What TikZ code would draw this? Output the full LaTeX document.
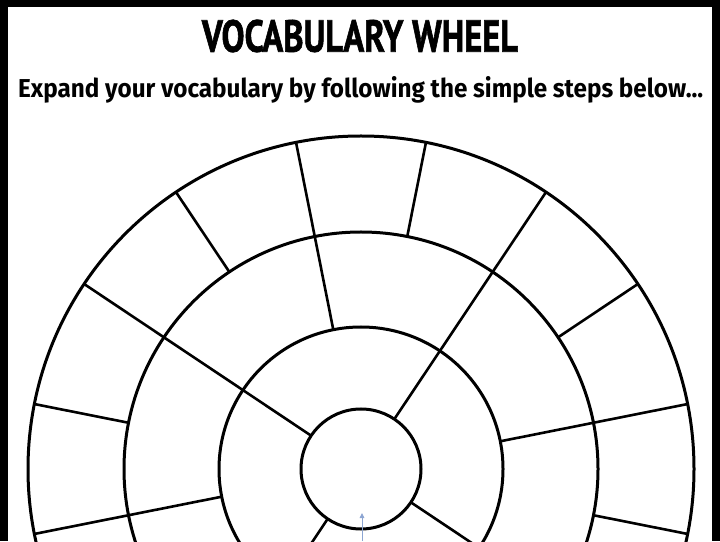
\documentclass[tikz,border=0pt]{standalone}
\usepackage{fontspec}
\usepackage{graphicx}
\setmainfont{Fira Sans}
\newfontfamily\titlefont[FakeBold=1.6]{PT Sans}
\usetikzlibrary{arrows.meta}
\definecolor{pointerblue}{RGB}{140,165,210}

\begin{document}
\begin{tikzpicture}[
  x=1pt, y=1pt,
  ring/.style={line width=3pt},
  spoke/.style={line width=2.6pt},
  pointer/.style={draw=pointerblue, line width=0.9pt, -{Triangle[length=5pt, width=4.5pt]}}
]
\useasboundingbox (0,0) rectangle (720,541);
\clip (0,0) rectangle (720,541);

% heading
\node[inner sep=0] (title) at (360,505)
  {\resizebox{316pt}{32pt}{\titlefont\bfseries VOCABULARY WHEEL}};
\node[inner sep=0, anchor=base west] (subtitle) at (18,443)
  {\resizebox{685pt}{21pt}{\bfseries Expand your vocabulary by following the simple steps below...}};

% wheel
\coordinate (hub) at (361,72);
\begin{scope}[shift={(hub)}]
  \foreach \r in {60,142,237,333}
    \draw[ring] (0,0) circle (\r pt);
  \foreach \i in {0,...,15}
    \draw[spoke] ({11.25+22.5*\i}:237) -- ({11.25+22.5*\i}:333);
  \foreach \i in {0,...,7}
    \draw[spoke] ({11.25+45*\i}:142) -- ({11.25+45*\i}:237);
  \foreach \i in {0,...,3}
    \draw[spoke] ({56.25+90*\i}:60) -- ({56.25+90*\i}:142);
\end{scope}

% little pointer
\coordinate (tail) at (362,0);
\coordinate (tip) at (362,28);
\draw[pointer] (tail) -- (tip);

% frame
\fill (0,0) rectangle (8,541);
\fill (712,0) rectangle (720,541);
\fill (0,534) rectangle (720,541);
\end{tikzpicture}
\end{document}
